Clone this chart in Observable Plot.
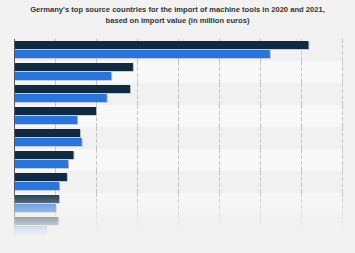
<!DOCTYPE html>
<html>
<head>
<meta charset="utf-8">
<script src="https://cdn.jsdelivr.net/npm/d3@7"></script>
<script src="https://cdn.jsdelivr.net/npm/@observablehq/plot@0.6"></script>
<style>
  html, body { margin: 0; padding: 0; background: #f2f2f2; }
  #wrap { position: relative; width: 355px; height: 253px; overflow: hidden; font-family: "Liberation Sans", Arial, sans-serif; }
  #title { position: absolute; top: 4px; left: 0; width: 355px; text-align: center; font-size: 7.6px; line-height: 11px; color: #333; font-weight: 600; }
  #chart { position: absolute; top: 30px; left: 0; }
  #fade { position: absolute; left: 0; top: 190px; width: 355px; height: 63px;
          background: linear-gradient(to bottom, rgba(242,242,242,0) 0px, rgba(242,242,242,0.12) 5px, rgba(242,242,242,0.45) 18px, rgba(242,242,242,0.7) 32px, rgba(242,242,242,0.9) 40px, rgba(242,242,242,1) 50px); }
</style>
</head>
<body>
<div id="wrap">
  <div id="title">Germany's top source countries for the import of machine tools in 2020 and 2021,<br>based on import value (in million euros)</div>
  <div id="chart"></div>
  <div id="fade"></div>
</div>
<script>
const countries = ["Country 1", "Country 2", "Country 3", "Country 4", "Country 5", "Country 6", "Country 7", "Country 8", "Country 9"];
const years = ["2021", "2020"];
const values2021 = [718, 290, 283, 200, 161, 145, 129, 110, 108];
const values2020 = [624, 237, 226, 154, 165, 132, 110, 102, 80];
const xTicks = [0, 100, 200, 300, 400, 500, 600, 700, 800];

const data = countries.flatMap((c, i) => [
  {country: c, year: "2021", value: values2021[i]},
  {country: c, year: "2020", value: values2020[i]}
]);
const bands = countries.map((c, i) => ({country: c, odd: i % 2}));

const chart = Plot.plot({
  width: 355,
  height: 223,
  marginTop: 8,
  marginBottom: 15,
  marginLeft: 14,
  marginRight: 13,
  style: {background: "transparent"},
  fy: {domain: countries, padding: 0, axis: null},
  y: {domain: years, axis: null, paddingInner: 0.06, paddingOuter: 0.18, align: 0.4},
  x: {domain: [0, 800], axis: null},
  color: {domain: years, range: ["#0f2a43", "#2876dd"]},
  marks: [
    Plot.barX(bands, {fy: "country", x1: 0, x2: 800, fill: d => d.odd ? "#f8f8f8" : "#f1f1f1", inset: 0}),
    Plot.ruleX(xTicks.slice(1), {stroke: "#c4c4c4", strokeDasharray: "4,2", strokeWidth: 1}),
    Plot.barX(data, {fy: "country", y: "year", x: "value", fill: "#9aa0a6", fillOpacity: 0.7, dx: 1, dy: 0.7}),
    Plot.barX(data, {fy: "country", y: "year", x: "value", fill: "year"}),
    Plot.ruleX([0], {stroke: "#555", strokeWidth: 1})
  ]
});
document.getElementById("chart").appendChild(chart);
</script>
</body>
</html>
